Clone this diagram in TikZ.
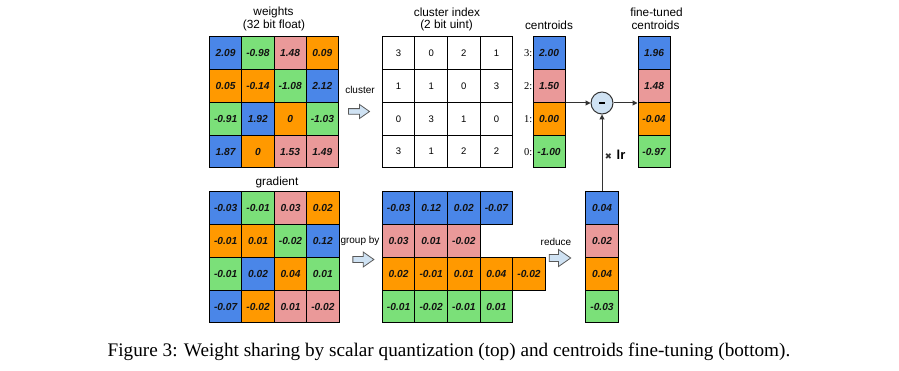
\documentclass[tikz,border=0pt]{standalone}
\usepackage{fontspec}
\setmainfont{Liberation Serif}
\setsansfont{Liberation Sans}
\newfontfamily\symfont{DejaVu Sans}
\usetikzlibrary{shapes.arrows,arrows.meta}
\definecolor{cB}{HTML}{4A86E8}
\definecolor{cP}{HTML}{EA9999}
\definecolor{cO}{HTML}{FF9900}
\definecolor{cG}{HTML}{7BE079}
\definecolor{arrowfill}{HTML}{CFE2F3}
\definecolor{lineclr}{HTML}{333333}
\tikzset{
  cell/.style={draw=black, line width=1pt, inner sep=0pt, text=black!93,
    font=\sffamily\bfseries\itshape\fontsize{10.2}{12}\selectfont},
  idxcell/.style={draw=black, line width=1pt, inner sep=0pt,
    font=\sffamily\fontsize{9.5}{11}\selectfont},
  title/.style={font=\sffamily\fontsize{11.8}{13}\selectfont, inner sep=0pt},
  small/.style={font=\sffamily\fontsize{10}{12}\selectfont, inner sep=0pt},
  rowlbl/.style={font=\fontsize{10.5}{12}\selectfont, inner sep=0pt, anchor=east},
  blockarrow/.style={single arrow, draw=black!65, fill=arrowfill, line width=0.8pt,
    single arrow tip angle=70, single arrow head extend=3.2pt, inner sep=1.8pt},
  conn/.style={draw=lineclr, line width=1pt, -{Triangle[length=5pt,width=5pt]}}
}
\begin{document}
\begin{tikzpicture}[x=1pt,y=-1pt]
\useasboundingbox[fill=white] (0,0) rectangle (899,371);

% weights
\foreach \row [count=\i] in {{B/2.09,G/-0.98,P/1.48,O/0.09},{O/0.05,O/-0.14,G/-1.08,B/2.12},{G/-0.91,B/1.92,O/0,G/-1.03},{B/1.87,O/0,P/1.53,P/1.49}}{
  \foreach \c/\v [count=\j] in \row {
    \node[cell, fill=c\c, minimum width=32.25pt, minimum height=32.75pt] (w-\i-\j)
      at ({209.5+(\j-0.5)*32.25},{37+(\i-0.5)*32.75}) {\v};
  }
}
\node[title] (wt1) at (273.5,12) {weights};
\node[title] (wt2) at (274,25) {(32 bit float)};

% cluster index
\foreach \row [count=\i] in {{3,0,2,1},{1,1,0,3},{0,3,1,0},{3,1,2,2}}{
  \foreach \v [count=\j] in \row {
    \node[idxcell, minimum width=32.6pt, minimum height=32.75pt] (k-\i-\j)
      at ({382.3+(\j-0.5)*32.6},{37+(\i-0.5)*32.75}) {\v};
  }
}
\node[title] (ct1) at (447,12) {cluster index};
\node[title] (ct2) at (446.5,25) {(2 bit uint)};

% centroids
\foreach \c/\v/\l [count=\i] in {B/2.00/3,P/1.50/2,O/0.00/1,G/-1.00/0}{
  \node[cell, fill=c\c, minimum width=32pt, minimum height=32.75pt] (c-\i)
    at (549,{37+(\i-0.5)*32.75}) {\v};
  \node[rowlbl] (cl-\i) at (532.5,{37+(\i-0.5)*32.75}) {\l:};
}
\node[title] (cet) at (549,25) {centroids};

% fine-tuned centroids
\foreach \c/\v [count=\i] in {B/1.96,P/1.48,O/-0.04,G/-0.97}{
  \node[cell, fill=c\c, minimum width=32pt, minimum height=32.75pt] (f-\i)
    at (654,{37+(\i-0.5)*32.75}) {\v};
}
\node[title] (ft1) at (656.5,12) {fine-tuned};
\node[title] (ft2) at (655.5,25) {centroids};

% gradient
\foreach \row [count=\i] in {{B/-0.03,G/-0.01,P/0.03,O/0.02},{O/-0.01,O/0.01,G/-0.02,B/0.12},{G/-0.01,B/0.02,O/0.04,G/0.01},{B/-0.07,O/-0.02,P/0.01,P/-0.02}}{
  \foreach \c/\v [count=\j] in \row {
    \node[cell, fill=c\c, minimum width=32.4pt, minimum height=32.8pt] (g-\i-\j)
      at ({209.5+(\j-0.5)*32.4},{191.7+(\i-0.5)*32.8}) {\v};
  }
}
\node[title] (gt) at (277,182.5) {gradient};

% grouped
\foreach \row [count=\i] in {{B/-0.03,B/0.12,B/0.02,B/-0.07},{P/0.03,P/0.01,P/-0.02},{O/0.02,O/-0.01,O/0.01,O/0.04,O/-0.02},{G/-0.01,G/-0.02,G/-0.01,G/0.01}}{
  \foreach \c/\v [count=\j] in \row {
    \node[cell, fill=c\c, minimum width=32.6pt, minimum height=32.8pt] (q-\i-\j)
      at ({382.3+(\j-0.5)*32.6},{191.7+(\i-0.5)*32.8}) {\v};
  }
}

% reduced
\foreach \c/\v [count=\i] in {B/0.04,P/0.02,O/0.04,G/-0.03}{
  \node[cell, fill=c\c, minimum width=32.6pt, minimum height=32.8pt] (r-\i)
    at (602,{191.7+(\i-0.5)*32.8}) {\v};
}

% block arrows and labels
\node[small] (lcl) at (360,90) {cluster};
\node[blockarrow, minimum height=21pt, minimum width=14pt] (a1) at (357,111.5) {};
\node[small] (lgb) at (360,241) {group by};
\node[blockarrow, minimum height=21pt, minimum width=15pt] (a2) at (361.2,259.5) {};
\node[small] (lrd) at (556,242) {reduce};
\node[blockarrow, minimum height=21.5pt, minimum width=17pt] (a3) at (557.5,258) {};

% subtraction
\node[circle, draw=lineclr, fill=arrowfill, line width=1pt, minimum size=22pt, inner sep=0pt] (minus) at (602,103) {\rule{6pt}{2.8pt}};
\draw[conn] (c-2.south east) -- (minus.west);
\draw[conn] (minus.east) -- (f-2.south west);
\draw[conn] (r-1.north) -- (minus.south);
\node[inner sep=0pt, text=black!80, font=\symfont\fontsize{8.5}{9}\selectfont] (times) at (608.5,156.5) {✖};
\node[inner sep=0pt, font=\sffamily\bfseries\fontsize{13}{14}\selectfont] (lr) at (621,155) {lr};

% caption
\node[inner sep=0pt, font=\fontsize{19.2}{22}\selectfont] (cap) at (449,352) {Figure 3: Weight sharing by scalar quantization (top) and centroids fine-tuning (bottom).};
\end{tikzpicture}
\end{document}
